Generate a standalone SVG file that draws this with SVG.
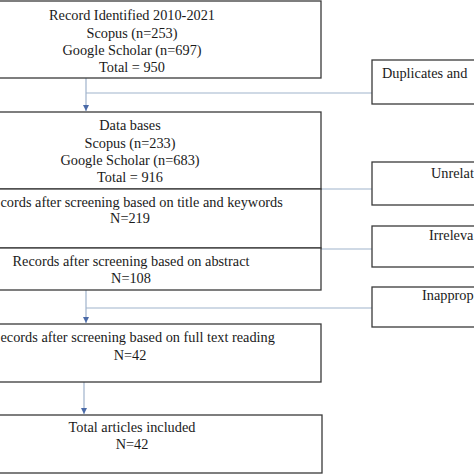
<svg xmlns="http://www.w3.org/2000/svg" width="474" height="474" viewBox="0 0 474 474">
<defs>
<style>
.box{fill:#fff;stroke:#3a3a3a;stroke-width:1.3}
.t{font-family:"Liberation Serif","Times New Roman",serif;font-size:14.3px;fill:#1a1a1a;text-anchor:middle}
.tl{font-family:"Liberation Serif","Times New Roman",serif;font-size:14.3px;fill:#1a1a1a}
.c{stroke:#9fb3cc;stroke-width:1.2;fill:none}
</style>
<marker id="ah" viewBox="0 0 10 10" refX="10" refY="5" markerWidth="6" markerHeight="6" orient="auto" markerUnits="userSpaceOnUse">
<path d="M0,0 L10,5 L0,10 Z" fill="#4a6aa8"/>
</marker>
</defs>
<rect width="474" height="474" fill="#fff"/>
<g id="connectors">
<line class="c" x1="86" y1="78" x2="86" y2="111" marker-end="url(#ah)"/>
<line class="c" x1="86" y1="93" x2="372" y2="93"/>
<line class="c" x1="321" y1="189" x2="372" y2="189"/>
<line class="c" x1="321" y1="249" x2="372" y2="249"/>
<line class="c" x1="86" y1="290" x2="86" y2="323" marker-end="url(#ah)"/>
<line class="c" x1="86" y1="308" x2="372" y2="308"/>
<line class="c" x1="84" y1="382" x2="84" y2="414" marker-end="url(#ah)"/>
</g>
<g id="n1">
<rect class="box" x="-60" y="1" width="381" height="77"/>
<text class="t" x="132" y="20">Record Identified 2010-2021</text>
<text class="t" x="132" y="38">Scopus (n=253)</text>
<text class="t" x="132" y="55">Google Scholar (n=697)</text>
<text class="t" x="132" y="72">Total = 950</text>
</g>
<g id="n2">
<rect class="box" x="-60" y="112" width="381" height="77"/>
<text class="t" x="130" y="130">Data bases</text>
<text class="t" x="130" y="148">Scopus (n=233)</text>
<text class="t" x="130" y="165">Google Scholar (n=683)</text>
<text class="t" x="130" y="182">Total = 916</text>
</g>
<g id="n3">
<rect class="box" x="-60" y="189" width="381" height="59"/>
<text class="tl" x="0.5" y="207">cords after screening based on title and keywords</text>
<text class="t" x="130" y="223">N=219</text>
</g>
<g id="n4">
<rect class="box" x="-60" y="248" width="381" height="42"/>
<text class="t" x="131" y="266">Records after screening based on abstract</text>
<text class="t" x="131" y="283">N=108</text>
</g>
<g id="n5">
<rect class="box" x="-60" y="324" width="381" height="58"/>
<text class="tl" x="0.5" y="342">ecords after screening based on full text reading</text>
<text class="t" x="130" y="360">N=42</text>
</g>
<g id="n6">
<rect class="box" x="-60" y="415" width="382" height="58"/>
<text class="t" x="132" y="432">Total articles included</text>
<text class="t" x="132" y="449">N=42</text>
</g>
<g id="r1">
<rect class="box" x="372" y="60" width="140" height="44"/>
<text class="tl" x="382" y="78">Duplicates and</text>
</g>
<g id="r2">
<rect class="box" x="372" y="162" width="140" height="43"/>
<text class="tl" x="431" y="178">Unrelat</text>
</g>
<g id="r3">
<rect class="box" x="372" y="226" width="140" height="41"/>
<text class="tl" x="429" y="240">Irreleva</text>
</g>
<g id="r4">
<rect class="box" x="372" y="287" width="140" height="40"/>
<text class="tl" x="422" y="300">Inapprop</text>
</g>
</svg>
